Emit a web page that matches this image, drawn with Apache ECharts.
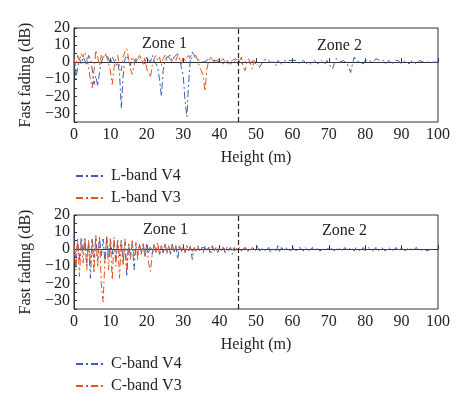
<!DOCTYPE html>
<html><head><meta charset="utf-8">
<script src="https://cdn.jsdelivr.net/npm/echarts@6/dist/echarts.min.js"></script>
<style>html,body{margin:0;padding:0;background:#fff}#c{width:474px;height:410px}</style>
</head><body><div id="c"></div>
<script>
const step = 0.5;
const xTicks = [0,10,20,30,40,50,60,70,80,90,100];
const yTicks = [20,10,0,-10,-20,-30];
const LV4 = [5,-10,-3,2,-1,3,1,-2,4,2,-4,-13,-8,-14,-6,0,3,4,5,2,-1,3,1,-2,0,-6,-27,-8,2,4,1,-2,3,2,0,3,4,1,2,-1,3,2,0,4,1,2,-3,-10,-20,-5,1,3,2,4,1,3,4,5,2,-3,-8,-22,-32,-12,3,6,4,2,3,1,2,0,-1,1,2,3,1,0,1,2,0,1,-1,0,1,0,-1,-2,0,1,2,0,1,-1,0,1,0,-1,1,0,-1,0,-3,-1,1,0,2,1,0,-1,0,-2,1,0,-1,0,1,0,1,2,1,0,1,0,-1,0,1,0,-1,0,-1,0,1,0,-1,0,1,0,-1,1,-1,-2,-4,-1,2,1,0,-1,1,0,-1,-3,-6,-1,3,1,2,0,1,-1,1,0,1,2,0,1,2,3,1,0,1,-1,0,1,0,-1,1,0,1,0,-1,0,1,0,-1,0,1,0,-1,0,1,0,0,-1,0,1,0,-1,0,0,0];
const LV3 = [2,-2,4,1,5,3,6,2,-3,-10,-15,-5,7,3,-2,4,2,5,3,-1,-5,-13,-3,2,4,-2,-5,3,6,8,2,-4,-7,-2,3,1,4,2,-2,3,-4,-6,-9,-2,2,4,1,3,-2,2,4,1,3,2,0,3,1,4,2,-1,3,1,2,4,1,3,2,4,1,-3,-5,-8,-17,-4,1,3,2,0,1,2,0,1,2,0,1,-1,0,1,0,2,-1,1,3,-3,-5,0,2,3,-4,1,0];
const CV4 = [8,-10,5,-6,7,-3,6,-8,5,-17,6,-5,7,-7,7,-4,6,-8,7,-5,6,-3,5,-6,4,-4,5,-8,4,-16,3,-4,3,-12,2,-3,3,-2,2,-4,3,-2,2,-3,3,-1,2,-3,2,-2,3,-1,2,-3,3,-2,2,-6,2,-1,3,-2,2,-1,2,-6,1,-2,2,-1,1,-2,2,-1,1,-3,2,-1,1,-2,1,-1,1,-2,1,-1,1,-3,1,-1,0,1,-1,0,1,-1,0,-1,1,0,-1,2,-1,0,1,-1,0,1,-2,0,1,-1,2,-2,1,0,-1,1,0,-1,0,1,-1,0,1,0,-1,1,0,-1,0,1,-1,0,1,-1,-2,0,1,0,-1,1,0,-1,0,1,2,-1,0,1,-1,0,1,0,-1,1,0,-1,0,1,-1,0,1,0,-1,0,1,-1,0,1,0,-1,0,1,0,-1,0,1,-1,0,1,0,-1,0,1,0,-1,0,1,0,-1,0,0,1,-1,0,0];
const CV3 = [3,-12,6,-16,5,-8,7,-12,5,-9,6,-14,8,-10,7,-20,-31,-6,8,-12,6,-18,7,-10,6,-17,5,-9,6,-12,4,-6,5,-4,4,-6,3,-3,4,-5,3,-8,-13,-3,3,-2,4,-3,2,-2,3,-3,2,-1,3,-2,2,-1,2,-2,1,-1,2,-1,1,-2,1,-1,1,-1,1,0,1,-1,1,0,1,-1,0,1,-1,0,1,0,-1,0,1,0,-1,0,1,0,-1,0,1,0,-1,0,0,1,0];
const pairs = a => a.map((v,i)=>[i*step,v]);
const F = 'Liberation Serif';
const blue = '#3d5db0', orange = '#e5521f';
const dash = [7,3,2,3];
function xAxis(g){return {type:'value',gridIndex:g,min:0,max:100,interval:10,name:'Height (m)',nameLocation:'middle',nameGap:28,
  nameTextStyle:{fontFamily:F,fontSize:16,color:'#222'},axisLine:{lineStyle:{color:'#333'}},axisTick:{inside:true,length:4,lineStyle:{color:'#333'}},
  axisLabel:{fontFamily:F,fontSize:16,color:'#222',margin:5},splitLine:{show:false}};}
function yAxis(g){return {type:'value',gridIndex:g,min:-35,max:20,interval:5,name:'Fast fading (dB)',nameLocation:'middle',nameGap:34,
  nameTextStyle:{fontFamily:F,fontSize:16,color:'#222'},axisLine:{lineStyle:{color:'#333'}},axisTick:{inside:true,length:3,lineStyle:{color:'#333'}},
  axisLabel:{fontFamily:F,fontSize:16,color:'#222',margin:4,formatter:v=>yTicks.includes(v)?(v<0?'\u2212'+(-v):''+v):''},splitLine:{show:false}};}
function ser(name,data,color,g,mark){
  const s={name,type:'line',xAxisIndex:g,yAxisIndex:g,data:pairs(data),showSymbol:false,symbol:'none',
    lineStyle:{color,width:1,type:dash},itemStyle:{color},animation:false};
  if(mark) s.markLine={silent:true,symbol:'none',label:{show:false},lineStyle:{color:'#222',type:[5,3],width:1.2},data:[{xAxis:45}]};
  return s;
}
const lg = (names,top)=>({data:names,orient:'vertical',left:70,top,itemWidth:30,itemHeight:10,itemGap:6,
  itemStyle:{opacity:0},textStyle:{fontFamily:F,fontSize:16,color:'#222'}});
const chart = echarts.init(document.getElementById('c'));
chart.setOption({
  backgroundColor:'#fff',
  grid:[{left:74,right:36,top:28,height:94,show:true,borderColor:'#333',borderWidth:1},
        {left:74,right:36,top:215,height:94,show:true,borderColor:'#333',borderWidth:1}],
  xAxis:[xAxis(0),xAxis(1)],
  yAxis:[yAxis(0),yAxis(1)],
  legend:[lg(['L-band V4','L-band V3'],163), lg(['C-band V4','C-band V3'],351)],
  graphic:[
    {type:'text',left:142,top:36,style:{text:'Zone 1',font:'16px "Liberation Serif"',fill:'#222'}},
    {type:'text',left:317,top:38,style:{text:'Zone 2',font:'16px "Liberation Serif"',fill:'#222'}},
    {type:'text',left:143,top:222,style:{text:'Zone 1',font:'16px "Liberation Serif"',fill:'#222'}},
    {type:'text',left:322,top:223,style:{text:'Zone 2',font:'16px "Liberation Serif"',fill:'#222'}}
  ],
  series:[
    ser('L-band V4',LV4,blue,0,true),
    ser('L-band V3',LV3,orange,0,false),
    ser('C-band V4',CV4,blue,1,true),
    ser('C-band V3',CV3,orange,1,false)
  ]
});
</script></body></html>
